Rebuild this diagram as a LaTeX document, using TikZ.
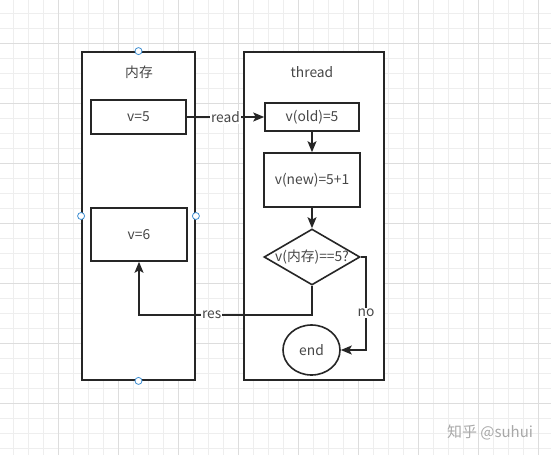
\documentclass[tikz,border=0pt]{standalone}
\usepackage{fontspec}
\setmainfont{Noto Sans CJK SC}
\usepackage{tikz}
\usetikzlibrary{arrows.meta,positioning,calc,shapes.geometric}
\definecolor{Ink}{HTML}{262626}
\definecolor{GridMinor}{HTML}{EEEEEE}
\definecolor{GridMajor}{HTML}{DDDDDD}
\definecolor{Handle}{HTML}{3F8FD2}
\definecolor{Mark}{HTML}{A8A8A8}
\tikzset{
  >={Stealth[length=11pt,width=9pt,inset=2.5pt]},
  lane/.style={rectangle,draw=Ink,line width=1.8pt,fill=white,inner sep=0pt},
  box/.style={rectangle,draw=Ink,line width=1.6pt,fill=white,inner sep=0pt},
  cond/.style={diamond,draw=Ink,line width=1.6pt,fill=white,inner sep=0pt},
  stop/.style={ellipse,draw=Ink,line width=1.6pt,fill=white,inner sep=0pt},
  flow/.style={->,line width=1.6pt,draw=Ink},
  lab/.style={font=\fontsize{13.8}{16}\selectfont,text=Ink!85,fill=white,inner sep=1pt},
  txt/.style={font=\fontsize{13.8}{16}\selectfont,text=Ink!85,inner sep=0pt},
  grip/.style={circle,draw=Handle,line width=.8pt,fill=white,minimum size=7pt,inner sep=0pt}
}

\begin{document}
\begin{tikzpicture}[x=1pt,y=-1pt]
  \useasboundingbox (0,0) rectangle (551,455);
  % grid
  \foreach \gx in {13,28,...,551} \draw[GridMinor,line width=.7pt] (\gx,0) -- (\gx,455);
  \foreach \gy in {13,28,...,455} \draw[GridMinor,line width=.7pt] (0,\gy) -- (551,\gy);
  \foreach \gx in {58,118,...,551} \draw[GridMajor,line width=.8pt] (\gx,0) -- (\gx,455);
  \foreach \gy in {43,103,...,455} \draw[GridMajor,line width=.8pt] (0,\gy) -- (551,\gy);

  % lanes
  \node[lane,minimum width=113pt,minimum height=328pt] (mem) at (138.5,216) {};
  \node[lane,minimum width=140pt,minimum height=328pt] (thr) at (314,216) {};
  \node[txt] (memtitle) at (139,72) {内存};
  \node[txt] (thrtitle) at (312,72) {thread};

  % memory cells
  \node[box,minimum width=95pt,minimum height=34pt] (v5) at (138.5,117) {};
  \node[txt] (v5txt) at (v5) {v=5};
  \node[box,minimum width=96pt,minimum height=53pt] (v6) at (139,234.5) {};
  \node[txt] (v6txt) at (v6) {v=6};

  % thread steps
  \node[box,minimum width=94pt,minimum height=28pt] (old) at (312,117) {};
  \node[txt] (oldtxt) at (old) {v(old)=5};
  \node[box,minimum width=96pt,minimum height=54pt] (new) at (312,180) {};
  \node[txt] (newtxt) at (new) {v(new)=5+1};
  \node[cond,minimum width=96pt,minimum height=56pt] (cmp) at (312,257) {};
  \node[txt] (cmptxt) at (cmp) {v(内存)==5?};
  \node[stop,minimum width=57pt,minimum height=50pt] (fin) at (311.5,350) {};
  \node[txt] (fintxt) at (fin) {end};

  % connectors
  \coordinate (resturn) at (312,315);
  \coordinate (noturn) at (366,257);
  \draw[flow] (v5.east) -- node[lab] {read} (old.west);
  \draw[flow] (old) -- (new);
  \draw[flow] (new) -- (cmp);
  \draw[flow] (cmp.south) -- (resturn) -| node[lab,pos=.29] {res} (v6.south);
  \draw[flow] (cmp.east) -- (noturn) |- node[lab,pos=.3] {no} (fin.east);

  % selection handles
  \foreach \h in {north,west,east,south} \node[grip] (grip-\h) at (mem.\h) {};

  \node[font=\fontsize{15}{17}\selectfont,text=Mark] (mark) at (490,432) {知乎 @suhui};
\end{tikzpicture}
\end{document}
